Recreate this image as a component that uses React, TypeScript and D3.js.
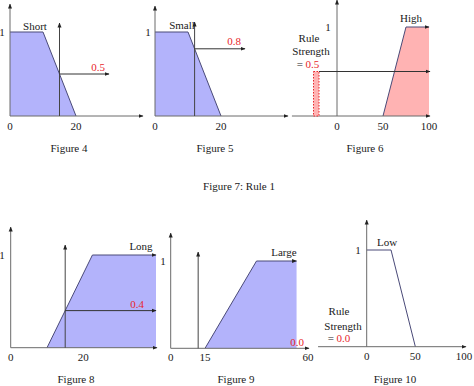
import React, { useEffect, useRef } from "react";
import * as d3 from "d3";

// membership function corners [value, degree]
const shortPts = [[0, 1], [10, 1], [20, 0]];
const smallPts = [[0, 1], [10, 1], [20, 0]];
const highPts = [[50, 0], [75, 1], [100, 1]];
const longPts = [[10, 0], [22.5, 1], [40, 1]];
const largePts = [[15, 0], [37.5, 1], [55, 1]];
const lowPts = [[0, 1], [25, 1], [50, 0]];

const inputs = [15, 12, 15, 12];
const degrees = ["0.5", "0.8", "0.4", "0.0"];
const ruleStrengths = [0.5, 0.0];

const ticks4 = [0, 20];
const ticks5 = [0, 20];
const ticks6 = [0, 50, 100];
const ticks8 = [0, 20];
const ticks9 = [0, 15, 60];
const ticks10 = [0, 50, 100];

const BLUE = "#b3b3fb";
const RED = "#ffb3b3";
const RED_TEXT = "#e8262b";
const AXIS = "#6b6b6b";
const EDGE = "#4a4a78";
const FONT = "'Liberation Serif', 'DejaVu Serif', serif";

const App = () => {
  const svgRef = useRef(null);

  useEffect(() => {
    const svg = d3.select(svgRef.current);
    svg.selectAll("*").remove();

    const defs = svg.append("defs");
    defs
      .append("marker")
      .attr("id", "arr")
      .attr("viewBox", "0 0 10 10")
      .attr("refX", 9)
      .attr("refY", 5)
      .attr("markerWidth", 5)
      .attr("markerHeight", 5)
      .attr("markerUnits", "userSpaceOnUse")
      .attr("orient", "auto")
      .append("path")
      .attr("d", "M0,1 L10,5 L0,9 z")
      .attr("fill", "#222");

    const txt = (x, y, s, opts: any = {}) =>
      svg
        .append("text")
        .attr("x", x)
        .attr("y", y)
        .attr("text-anchor", opts.anchor || "middle")
        .attr("font-family", FONT)
        .attr("font-size", opts.size || 11)
        .attr("fill", opts.fill || "#1a1a1a")
        .text(s);

    const line = (x1, y1, x2, y2, color, arrow) => {
      const l = svg
        .append("line")
        .attr("x1", x1)
        .attr("y1", y1)
        .attr("x2", x2)
        .attr("y2", y2)
        .attr("stroke", color)
        .attr("stroke-width", 1);
      if (arrow) l.attr("marker-end", "url(#arr)");
      return l;
    };

    // one panel: axes, membership shape, ticks, caption
    const panel = (p) => {
      const x = d3.scaleLinear().domain(p.xd).range(p.xr);
      const y = d3.scaleLinear().domain([0, 1]).range(p.yr);
      const xmin = p.xstart !== undefined ? x(p.xstart) : x(0);

      // shape
      const pts = p.pts;
      const area = [[pts[0][0], 0], ...pts, [pts[pts.length - 1][0], 0]];
      if (p.fill) {
        svg
          .append("path")
          .attr("d", d3.line()(area.map((d) => [x(d[0]), y(d[1])])))
          .attr("fill", p.fill)
          .attr("stroke", "none");
      }
      svg
        .append("path")
        .attr("d", d3.line()(pts.map((d) => [x(d[0]), y(d[1])])))
        .attr("fill", "none")
        .attr("stroke", EDGE)
        .attr("stroke-width", 1)
        .attr("marker-end", p.endArrow ? "url(#arr)" : null);

      // axes
      line(xmin, y(0), p.axisEnd, y(0), AXIS, true);
      line(x(0), y(0), x(0), p.axisTop, AXIS, true);

      p.ticks.forEach((t) => txt(x(t), p.tickY, t));
      if (p.one) txt(p.one[0], p.one[1], "1");
      txt(p.name[0], p.name[1], p.name[2]);
      txt(p.cap[0], p.cap[1], p.cap[2]);

      // input line + degree arrow
      if (p.input !== undefined) {
        const v = p.input;
        line(x(v), y(0), x(v), p.inputTop, "#444", true);
        if (p.degree !== undefined) {
          const mu = +p.degree;
          if (mu > 0) line(x(v), y(mu), p.degEnd, y(mu), "#333", true);
          txt(p.degPos[0], p.degPos[1], p.degree, { fill: RED_TEXT });
        }
      }
      return { x, y };
    };

    panel({
      pts: shortPts, fill: BLUE, xd: [0, 40], xr: [10, 142], yr: [116, 32],
      axisEnd: 143, axisTop: 4, ticks: ticks4, tickY: 130, one: [2, 36],
      name: [35, 30, "Short"], cap: [69, 152, "Figure 4"],
      input: inputs[0], inputTop: 23, degree: degrees[0], degEnd: 109, degPos: [98, 71],
    });

    panel({
      pts: smallPts, fill: BLUE, xd: [0, 40], xr: [155, 287], yr: [116, 32],
      axisEnd: 288, axisTop: 6, ticks: ticks5, tickY: 130, one: [148, 36],
      name: [182, 29, "Small"], cap: [215, 152, "Figure 5"],
      input: inputs[1], inputTop: 22, degree: degrees[1], degEnd: 245, degPos: [234, 45],
    });

    const p6 = panel({
      pts: highPts, fill: RED, endArrow: true, xd: [0, 100], xr: [337, 429], yr: [116, 27],
      xstart: -49, axisEnd: 430, axisTop: 0, ticks: ticks6, tickY: 130, one: [328, 31],
      name: [411, 22, "High"], cap: [365, 152, "Figure 6"],
    });

    // rule strength bar for figure 6
    const rs = ruleStrengths[0];
    svg
      .append("rect")
      .attr("x", 313.5)
      .attr("y", p6.y(rs))
      .attr("width", 5.5)
      .attr("height", p6.y(0) - p6.y(rs))
      .attr("fill", RED)
      .attr("stroke", "#e8262b")
      .attr("stroke-dasharray", "1.5,1.5")
      .attr("stroke-width", 1);
    line(319, p6.y(rs), 430, p6.y(rs), "#333", true);
    txt(309, 42, "Rule");
    txt(311, 55, "Strength");
    const t6 = txt(308, 68, "= ");
    t6.append("tspan").attr("fill", RED_TEXT).text(String(rs.toFixed(1)));

    txt(239, 190, "Figure 7: Rule 1");

    panel({
      pts: longPts, fill: BLUE, endArrow: true, xd: [0, 40], xr: [10.7, 156], yr: [347.7, 255],
      axisEnd: 157, axisTop: 227, ticks: ticks8, tickY: 361, one: [2, 259],
      name: [141, 250, "Long"], cap: [76, 383, "Figure 8"],
      input: inputs[2], inputTop: 245, degree: degrees[2], degEnd: 156, degPos: [137, 308],
    });

    panel({
      pts: largePts, fill: BLUE, endArrow: true, xd: [0, 60], xr: [170.7, 308], yr: [348.3, 261],
      axisEnd: 309, axisTop: 233, ticks: ticks9, tickY: 361, one: [163, 265],
      name: [284, 256, "Large"], cap: [236, 383, "Figure 9"],
      input: inputs[3], inputTop: 252, degree: degrees[3], degEnd: 300, degPos: [297, 346],
    });

    panel({
      pts: lowPts, fill: null, xd: [0, 100], xr: [366.7, 464], yr: [346.7, 250],
      xstart: -50, axisEnd: 466, axisTop: 220, ticks: ticks10, tickY: 360, one: [358, 254],
      name: [387, 246, "Low"], cap: [395, 383, "Figure 10"],
    });

    txt(339, 315, "Rule");
    txt(343, 330, "Strength");
    const t10 = txt(339, 342, "= ");
    t10.append("tspan").attr("fill", RED_TEXT).text(ruleStrengths[1].toFixed(1));
  }, []);

  return (
    <svg
      ref={svgRef}
      width={474}
      height={386}
      style={{ position: "absolute", left: 0, top: 0, background: "#fff" }}
    ></svg>
  );
};

export default App;
